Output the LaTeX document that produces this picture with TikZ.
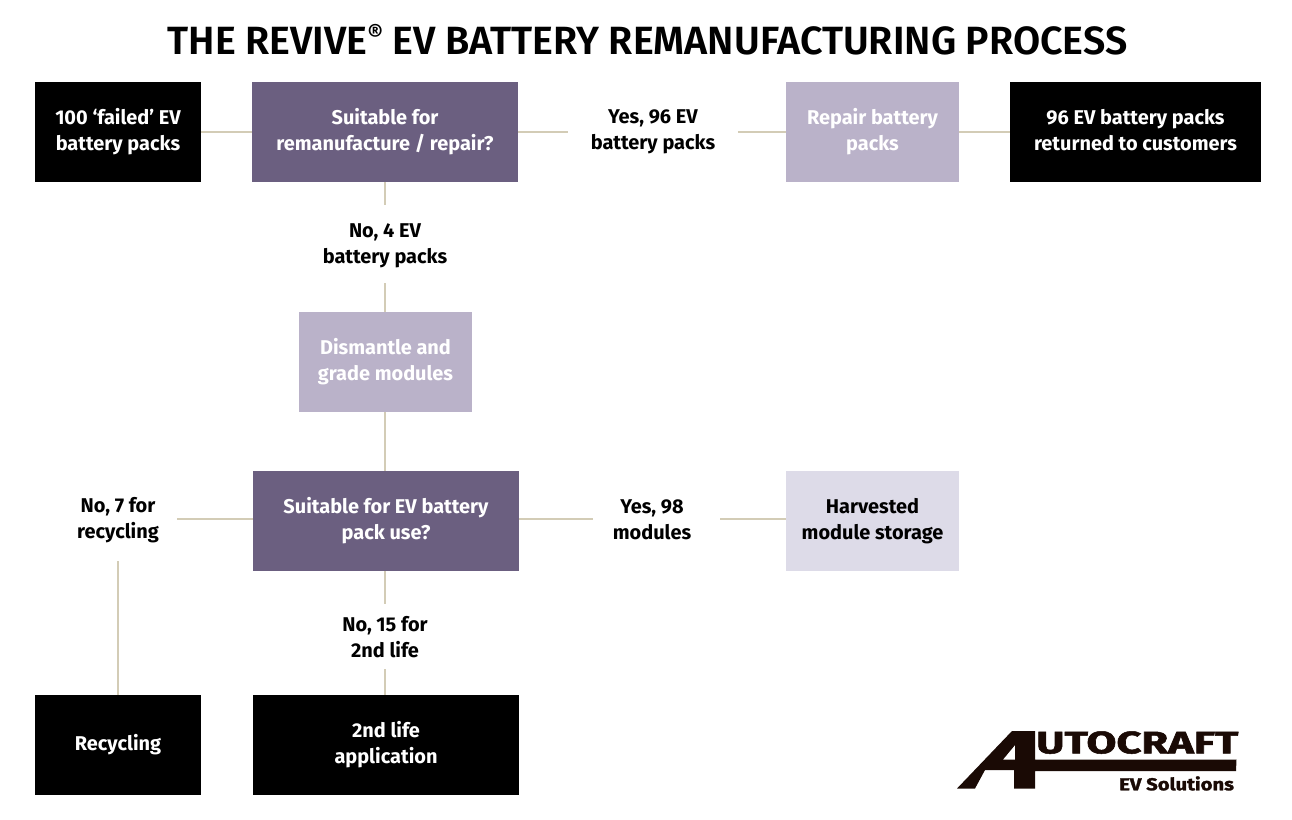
\documentclass[tikz,border=0pt]{standalone}
\usepackage{fontspec}
\setmainfont{Fira Sans}
\newfontfamily\titlefont{Fira Sans SemiBold}
\newfontfamily\logofont[FakeBold=1.6]{Fira Sans Bold}
\definecolor{deep}{HTML}{6B5F80}
\definecolor{mid}{HTML}{BAB2C9}
\definecolor{pale}{HTML}{DDDBE8}
\definecolor{link}{HTML}{D3CCB6}
\definecolor{logo}{HTML}{1A0A05}
\tikzset{
  x=0.75pt,y=-0.75pt,
  box/.style={inner sep=0pt,align=center,font=\fontsize{14.95}{19.5}\selectfont\bfseries,draw=none},
  blackbox/.style={box,fill=black,text=white},
  deepbox/.style={box,fill=deep,text=white},
  midbox/.style={box,fill=mid,text=white},
  palebox/.style={box,fill=pale,text=black},
  lab/.style={inner sep=0pt,align=center,font=\fontsize{14.95}{19.5}\selectfont\bfseries,text=black},
  conn/.style={draw=link,line width=1.5pt},
}
\newcommand{\bx}[7]{\node[#1,minimum width=#4*0.75pt,minimum height=#5*0.75pt] (#2) at (#6,#7) {\rule{0pt}{13.65pt}#3\rule[-5.85pt]{0pt}{5.85pt}};}
\newcommand{\lb}[6]{\node[lab,minimum width=#3*0.75pt,minimum height=#4*0.75pt] (#1) at (#5,#6) {\rule{0pt}{13.65pt}#2\rule[-1.35pt]{0pt}{1.35pt}};}
\begin{document}
\begin{tikzpicture}
\useasboundingbox (0,0) rectangle (1292,819);
\node[font=\fontsize{29.55}{32}\titlefont,inner sep=0pt] (title) at (647.5,39.5) {THE REVIVE\raisebox{0.3em}{\fontsize{18}{18}\selectfont®} EV BATTERY REMANUFACTURING PROCESS};
\bx{blackbox}{failed}{100 ‘failed’ EV\\battery packs}{166}{100}{118}{132}
\bx{deepbox}{suit}{Suitable for\\remanufacture / repair?}{266}{100}{385}{132}
\bx{midbox}{repair}{Repair battery\\packs}{173}{100}{872.5}{132}
\bx{blackbox}{returned}{96 EV battery packs\\returned to customers}{251}{100}{1135.5}{132}
\bx{midbox}{dismantle}{Dismantle and\\grade modules}{173}{100}{385.5}{362}
\bx{deepbox}{suitb}{Suitable for EV battery\\pack use?}{266}{100}{386}{521}
\bx{palebox}{store}{Harvested\\module storage}{173}{100}{872.5}{521}
\bx{blackbox}{recycle}{Recycling}{166}{100}{118}{745}
\bx{blackbox}{second}{2nd life\\application}{266}{100}{386}{745}
\lb{yesa}{Yes, 96 EV\\battery packs}{169}{60}{653}{130}
\lb{noa}{No, 4 EV\\battery packs}{160}{78}{385}{244}
\lb{nob}{No, 7 for\\recycling}{118}{84}{118}{519}
\lb{yesb}{Yes, 98\\modules}{118}{60}{652}{518.5}
\lb{noc}{No, 15 for\\2nd life}{100}{65}{385}{636.5}
\draw[conn] (failed.east) -- (suit.west);
\draw[conn] (suit.east) -- (suit.east -| yesa.west);
\draw[conn] (suit.east -| yesa.east) -- (repair.west);
\draw[conn] (repair.east) -- (returned.west);
\draw[conn] (suit.south) -- (noa.north);
\draw[conn] (noa.south) -- (noa.south |- dismantle.north);
\draw[conn] (noa.south |- dismantle.south) -- (noa.south |- suitb.north);
\draw[conn] (nob.east) -- (nob.east -| suitb.west);
\draw[conn] (nob.east -| suitb.east) -- (nob.east -| yesb.west);
\draw[conn,shorten <=6.75pt] (nob.east -| yesb.east) -- (nob.east -| store.west);
\draw[conn] (nob.south) -- (recycle.north);
\draw[conn] (noc.north |- suitb.south) -- (noc.north);
\draw[conn] (noc.south) -- (noc.south |- second.north);
% logo
\fill[logo] (957,788.5) -- (1012,731) -- (1035,731) -- (1035,759.5) -- (1236.5,759.5) -- (1236,771) -- (1035,771) -- (1035,788.5) -- (1014,788.5) -- (1014,770) -- (985,770) -- (975,788.5) -- cycle
 (1003,759.5) -- (1015,759.5) -- (1015,745) -- cycle;
\node[anchor=north west,inner sep=0pt,text=logo] (logoname) at (1036,731) {\resizebox{151.5pt}{16.5pt}{\logofont UTOCRAFT}};
\node[anchor=north west,inner sep=0pt,text=logo] (logosub) at (1119,776) {\resizebox{86pt}{10.5pt}{\logofont EV Solutions}};
\end{tikzpicture}
\end{document}
